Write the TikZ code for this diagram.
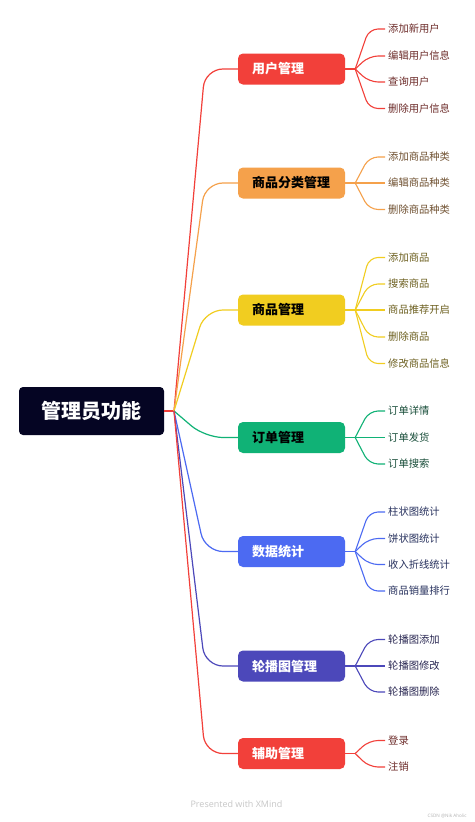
\documentclass[tikz,border=0pt]{standalone}
\usepackage{fontspec}
\newfontfamily\cjk{Noto Sans CJK SC}
\newfontfamily\xm{Open Sans}
\definecolor{cRed}{RGB}{242,64,58}
\definecolor{cOrange}{RGB}{245,161,75}
\definecolor{cYellow}{RGB}{241,205,32}
\definecolor{cGreen}{RGB}{16,178,118}
\definecolor{cBlue}{RGB}{76,106,242}
\definecolor{cIndigo}{RGB}{76,72,186}
\definecolor{cRoot}{RGB}{5,5,35}
\tikzset{
  rootbox/.style={fill=cRoot, rounded corners=4pt, minimum width=145pt, minimum height=48pt,
    text=white, font=\cjk\bfseries\fontsize{20}{24}\selectfont, inner sep=0pt},
  branch/.style={fill=#1, rounded corners=5pt, minimum height=31pt, text width=79pt,
    inner xsep=14pt, inner ysep=0pt, align=left, font=\cjk\bfseries\fontsize{13}{16}\selectfont},
  leaf/.style={anchor=west, inner xsep=3pt, inner ysep=1pt, text=#1,
    font=\cjk\fontsize{10.3}{12}\selectfont},
  conn/.style={draw=#1, line width=1.2pt, rounded corners=18pt},
  lconn/.style={draw=#1, line width=1.1pt, rounded corners=9pt},
}
\begin{document}
\begin{tikzpicture}[x=1pt,y=-1pt]
\useasboundingbox[fill=white] (0,0) rectangle (474,822);
\node[rootbox] (root) at (91.5,411) {管理员功能};
\coordinate (fork) at (174,411);
\coordinate (cx) at (205,0);
\coordinate (lcx) at (369,0);

\node[branch=cRed, text=white] (b1) at (291.5,69) {用户管理};
\node[branch=cOrange, text=black] (b2) at (291.5,183) {商品分类管理};
\node[branch=cYellow, text=black] (b3) at (291.5,310) {商品管理};
\node[branch=cGreen, text=black] (b4) at (291.5,437.5) {订单管理};
\node[branch=cBlue, text=white] (b5) at (291.5,551.5) {数据统计};
\node[branch=cIndigo, text=white] (b6) at (291.5,666) {轮播图管理};
\node[branch=cRed, text=white] (b7) at (291.5,753.5) {辅助管理};

\colorlet{tRed}{cRed!40!black!92!white}
\colorlet{tOrange}{cOrange!40!black!92!white}
\colorlet{tYellow}{cYellow!40!black!92!white}
\colorlet{tGreen}{cGreen!35!black!92!white}
\colorlet{tBlue}{cBlue!35!black!95!white}
\colorlet{tIndigo}{cIndigo!40!black!95!white}

\foreach \n/\y/\t in {l11/29/添加新用户,l12/56/编辑用户信息,l13/82/查询用户,l14/108.5/删除用户信息}
  \node[leaf=tRed] (\n) at (385,\y) {\t};
\foreach \n/\y/\t in {l21/157/添加商品种类,l22/183/编辑商品种类,l23/209.5/删除商品种类}
  \node[leaf=tOrange] (\n) at (385,\y) {\t};
\foreach \n/\y/\t in {l31/257.5/添加商品,l32/284/搜索商品,l33/310/商品推荐开启,l34/337/删除商品,l35/363.5/修改商品信息}
  \node[leaf=tYellow] (\n) at (385,\y) {\t};
\foreach \n/\y/\t in {l41/411/订单详情,l42/437.5/订单发货,l43/464/订单搜索}
  \node[leaf=tGreen] (\n) at (385,\y) {\t};
\foreach \n/\y/\t in {l51/512/柱状图统计,l52/538.5/饼状图统计,l53/564.5/收入折线统计,l54/591/商品销量排行}
  \node[leaf=tBlue] (\n) at (385,\y) {\t};
\foreach \n/\y/\t in {l61/639.5/轮播图添加,l62/666/轮播图修改,l63/692/轮播图删除}
  \node[leaf=tIndigo] (\n) at (385,\y) {\t};
\foreach \n/\y/\t in {l71/740.5/登录,l72/767/注销}
  \node[leaf=tRed] (\n) at (385,\y) {\t};

% root connectors
\draw[conn=cRed] (root.east) -- (fork);
\draw[conn=cRed] (fork) -- (cx |- b1.west) -- (b1.west);
\draw[conn=cOrange] (fork) -- (cx |- b2.west) -- (b2.west);
\draw[conn=cYellow] (fork) -- (cx |- b3.west) -- (b3.west);
\draw[conn=cGreen] (fork) -- (cx |- b4.west) -- (b4.west);
\draw[conn=cBlue] (fork) -- (cx |- b5.west) -- (b5.west);
\draw[conn=cIndigo] (fork) -- (cx |- b6.west) -- (b6.west);
\draw[conn=cRed] (fork) -- (cx |- b7.west) -- (b7.west);

% leaf connectors
\foreach \b/\c/\ls in {1/cRed/{l11,l12,l13,l14},2/cOrange/{l21,l22,l23},3/cYellow/{l31,l32,l33,l34,l35},4/cGreen/{l41,l42,l43},5/cBlue/{l51,l52,l53,l54},6/cIndigo/{l61,l62,l63},7/cRed/{l71,l72}}{
  \path (b\b.east) ++(10,0) coordinate (f\b);
  \draw[lconn=\c] (b\b.east) -- (f\b);
  \foreach \l in \ls
    \draw[lconn=\c] (f\b) -- (lcx |- \l.west) -- (\l.west);
}

\node[font=\xm\fontsize{9}{11}\selectfont, text=black!22] (pw) at (236.5,804) {Presented with XMind};
\node[font=\xm\fontsize{4.6}{5}\selectfont, text=black!30, anchor=east] (wm) at (470,816) {CSDN @Nik Aholic};
\end{tikzpicture}
\end{document}
